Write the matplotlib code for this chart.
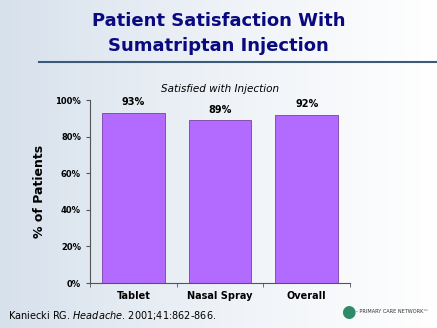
import numpy as np
import matplotlib.pyplot as plt
from matplotlib.ticker import FuncFormatter
from matplotlib.colors import LinearSegmentedColormap

categories = ['Tablet', 'Nasal Spray', 'Overall']
satisfied = [93, 89, 92]

fig = plt.figure(figsize=(4.37, 3.28), dpi=100)

# light background wash
bg = fig.add_axes([0, 0, 1, 1], zorder=-10)
grad = np.linspace(0, 1, 256)
img = np.outer(np.ones(256), grad)
bg.imshow(img, cmap=LinearSegmentedColormap.from_list('bgc', ['#d7e1ec', '#eef2f7', '#ffffff']),
          aspect='auto', extent=[0, 1, 0, 1])
bg.plot([0.09, 1.0], [0.81, 0.81], color='#3c5a7a', lw=1.5)
bg.set_xlim(0, 1)
bg.set_ylim(0, 1)
bg.axis('off')

title_kw = dict(ha='center', va='center', fontsize=13, fontweight='bold', color='#0a0a80',
                family='DejaVu Sans')
fig.text(0.5, 0.935, 'Patient Satisfaction With', **title_kw)
fig.text(0.5, 0.86, 'Sumatriptan Injection', **title_kw)

ax = fig.add_axes([0.206, 0.137, 0.595, 0.558])
ax.patch.set_alpha(0)
x = np.arange(len(categories))
ax.bar(x, satisfied, width=0.72, color='#b36bff', edgecolor='#7a3fa8', linewidth=0.6)
for xi, v in zip(x, satisfied):
    ax.text(xi, v + 3, f'{v}%', ha='center', va='bottom', fontsize=7, fontweight='bold')

ax.set_xlim(-0.5, 2.5)
ax.set_ylim(0, 100)
ax.set_yticks(range(0, 101, 20))
ax.yaxis.set_major_formatter(FuncFormatter(lambda v, p: f'{int(v)}%'))
ax.set_xticks(x)
ax.set_xticklabels(categories, fontsize=7, fontweight='bold')
ax.set_xticks([-0.5, 0.5, 1.5, 2.5], minor=True)
ax.tick_params(axis='x', which='major', length=0, pad=6)
ax.tick_params(axis='x', which='minor', length=3, color='#555555')
ax.tick_params(axis='y', labelsize=6, length=3, color='#555555')
for lbl in ax.get_yticklabels():
    lbl.set_fontweight('bold')
for s in ['top', 'right']:
    ax.spines[s].set_visible(False)
ax.spines['left'].set_color('#555555')
ax.spines['bottom'].set_color('#555555')
ax.set_ylabel('% of Patients', fontsize=9, fontweight='bold', labelpad=7)
ax.set_title('Satisfied with Injection', fontsize=7.5, style='italic', pad=6)

fig.text(0.018, 0.018, r'Kaniecki RG. $\it{Headache}$. 2001;41:862-866.', fontsize=7,
         ha='left', va='bottom')

fig.text(0.797, 0.05, '\u25cf', fontsize=12, color='#2e8b6a', ha='center', va='center')
fig.text(0.815, 0.05, '- PRIMARY CARE NETWORK\u2122', fontsize=3.6, color='#333333',
         ha='left', va='center')

fig.savefig('out.png', dpi=100)
